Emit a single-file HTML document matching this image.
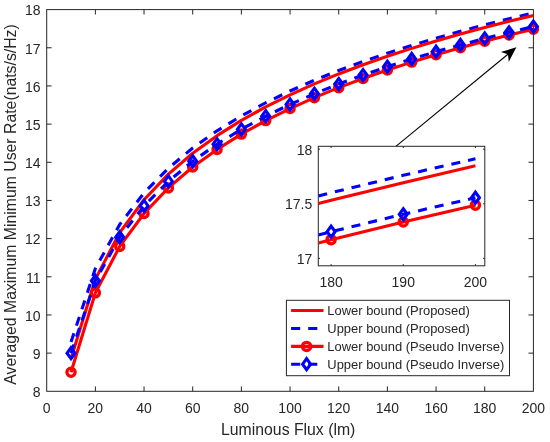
<!DOCTYPE html><html><head><meta charset="utf-8"><title>plot</title><style>html,body{margin:0;padding:0;background:#fff}svg{display:block}text{font-family:"Liberation Sans",sans-serif;fill:#262626}</style></head><body>
<svg width="550" height="442" viewBox="0 0 550 442">
<rect width="550" height="442" fill="#fff"/>
<g stroke="#262626" stroke-width="1" fill="none">
<rect x="46.70" y="9.60" width="486.70" height="381.70"/>
<path d="M95.37 391.30v-4.90M95.37 9.60v4.90M144.04 391.30v-4.90M144.04 9.60v4.90M192.71 391.30v-4.90M192.71 9.60v4.90M241.38 391.30v-4.90M241.38 9.60v4.90M290.05 391.30v-4.90M290.05 9.60v4.90M338.72 391.30v-4.90M338.72 9.60v4.90M387.39 391.30v-4.90M387.39 9.60v4.90M436.06 391.30v-4.90M436.06 9.60v4.90M484.73 391.30v-4.90M484.73 9.60v4.90M46.70 353.13h4.90M533.40 353.13h-4.90M46.70 314.96h4.90M533.40 314.96h-4.90M46.70 276.79h4.90M533.40 276.79h-4.90M46.70 238.62h4.90M533.40 238.62h-4.90M46.70 200.45h4.90M533.40 200.45h-4.90M46.70 162.28h4.90M533.40 162.28h-4.90M46.70 124.11h4.90M533.40 124.11h-4.90M46.70 85.94h4.90M533.40 85.94h-4.90M46.70 47.77h4.90M533.40 47.77h-4.90"/>
</g>
<clipPath id="c1"><rect x="46.70" y="9.60" width="486.70" height="381.70"/></clipPath>
<g>
<polyline points="71.03,342.06 95.37,268.50 119.70,224.46 144.04,192.88 168.38,168.22 192.71,147.99 217.05,130.83 241.38,115.93 265.71,102.76 290.05,90.96 314.38,80.27 338.72,70.50 363.06,61.50 387.39,53.16 411.72,45.39 436.06,38.12 460.39,31.29 484.73,24.84 509.06,18.74 533.40,12.95" fill="none" stroke="#0000ff" stroke-width="3.1" stroke-linejoin="round" stroke-dasharray="9.2 8.12"/>
<polyline points="71.03,358.47 95.37,279.10 119.70,232.67 144.04,199.73 168.38,174.18 192.71,153.30 217.05,135.65 241.38,120.36 265.71,106.87 290.05,94.80 314.38,83.89 338.72,73.93 363.06,64.76 387.39,56.28 411.72,48.37 436.06,40.98 460.39,34.04 484.73,27.50 509.06,21.31 533.40,15.43" fill="none" stroke="#ff0000" stroke-width="3.1" stroke-linejoin="round"/>
<polyline points="71.03,372.22 95.37,292.84 119.70,246.41 144.04,213.47 168.38,187.92 192.71,167.04 217.05,149.39 241.38,134.10 265.71,120.61 290.05,108.55 314.38,97.63 338.72,87.67 363.06,78.50 387.39,70.02 411.72,62.12 436.06,54.73 460.39,47.78 484.73,41.24 509.06,35.05 533.40,29.17" fill="none" stroke="#ff0000" stroke-width="3.1" stroke-linejoin="round"/>
<circle cx="71.03" cy="372.22" r="4.1" fill="none" stroke="#ff0000" stroke-width="3.3"/>
<circle cx="95.37" cy="292.84" r="4.1" fill="none" stroke="#ff0000" stroke-width="3.3"/>
<circle cx="119.70" cy="246.41" r="4.1" fill="none" stroke="#ff0000" stroke-width="3.3"/>
<circle cx="144.04" cy="213.47" r="4.1" fill="none" stroke="#ff0000" stroke-width="3.3"/>
<circle cx="168.38" cy="187.92" r="4.1" fill="none" stroke="#ff0000" stroke-width="3.3"/>
<circle cx="192.71" cy="167.04" r="4.1" fill="none" stroke="#ff0000" stroke-width="3.3"/>
<circle cx="217.05" cy="149.39" r="4.1" fill="none" stroke="#ff0000" stroke-width="3.3"/>
<circle cx="241.38" cy="134.10" r="4.1" fill="none" stroke="#ff0000" stroke-width="3.3"/>
<circle cx="265.71" cy="120.61" r="4.1" fill="none" stroke="#ff0000" stroke-width="3.3"/>
<circle cx="290.05" cy="108.55" r="4.1" fill="none" stroke="#ff0000" stroke-width="3.3"/>
<circle cx="314.38" cy="97.63" r="4.1" fill="none" stroke="#ff0000" stroke-width="3.3"/>
<circle cx="338.72" cy="87.67" r="4.1" fill="none" stroke="#ff0000" stroke-width="3.3"/>
<circle cx="363.06" cy="78.50" r="4.1" fill="none" stroke="#ff0000" stroke-width="3.3"/>
<circle cx="387.39" cy="70.02" r="4.1" fill="none" stroke="#ff0000" stroke-width="3.3"/>
<circle cx="411.72" cy="62.12" r="4.1" fill="none" stroke="#ff0000" stroke-width="3.3"/>
<circle cx="436.06" cy="54.73" r="4.1" fill="none" stroke="#ff0000" stroke-width="3.3"/>
<circle cx="460.39" cy="47.78" r="4.1" fill="none" stroke="#ff0000" stroke-width="3.3"/>
<circle cx="484.73" cy="41.24" r="4.1" fill="none" stroke="#ff0000" stroke-width="3.3"/>
<circle cx="509.06" cy="35.05" r="4.1" fill="none" stroke="#ff0000" stroke-width="3.3"/>
<circle cx="533.40" cy="29.17" r="4.1" fill="none" stroke="#ff0000" stroke-width="3.3"/>
<polyline points="71.03,353.13 95.37,280.81 119.70,237.23 144.04,205.89 168.38,181.38 192.71,161.25 217.05,144.17 241.38,129.32 265.71,116.19 290.05,104.43 314.38,93.77 338.72,84.02 363.06,75.04 387.39,66.73 411.72,58.97 436.06,51.71 460.39,44.89 484.73,38.45 509.06,32.36 533.40,26.58" fill="none" stroke="#0000ff" stroke-width="3.1" stroke-linejoin="round" stroke-dasharray="9.18 8.09"/>
<path d="M71.03 347.63L75.03 353.13L71.03 358.63L67.03 353.13Z" fill="none" stroke="#0000ff" stroke-width="3.1" stroke-linejoin="miter"/>
<path d="M95.37 275.31L99.37 280.81L95.37 286.31L91.37 280.81Z" fill="none" stroke="#0000ff" stroke-width="3.1" stroke-linejoin="miter"/>
<path d="M119.70 231.73L123.70 237.23L119.70 242.73L115.70 237.23Z" fill="none" stroke="#0000ff" stroke-width="3.1" stroke-linejoin="miter"/>
<path d="M144.04 200.39L148.04 205.89L144.04 211.39L140.04 205.89Z" fill="none" stroke="#0000ff" stroke-width="3.1" stroke-linejoin="miter"/>
<path d="M168.38 175.88L172.38 181.38L168.38 186.88L164.38 181.38Z" fill="none" stroke="#0000ff" stroke-width="3.1" stroke-linejoin="miter"/>
<path d="M192.71 155.75L196.71 161.25L192.71 166.75L188.71 161.25Z" fill="none" stroke="#0000ff" stroke-width="3.1" stroke-linejoin="miter"/>
<path d="M217.05 138.67L221.05 144.17L217.05 149.67L213.05 144.17Z" fill="none" stroke="#0000ff" stroke-width="3.1" stroke-linejoin="miter"/>
<path d="M241.38 123.82L245.38 129.32L241.38 134.82L237.38 129.32Z" fill="none" stroke="#0000ff" stroke-width="3.1" stroke-linejoin="miter"/>
<path d="M265.71 110.69L269.71 116.19L265.71 121.69L261.71 116.19Z" fill="none" stroke="#0000ff" stroke-width="3.1" stroke-linejoin="miter"/>
<path d="M290.05 98.93L294.05 104.43L290.05 109.93L286.05 104.43Z" fill="none" stroke="#0000ff" stroke-width="3.1" stroke-linejoin="miter"/>
<path d="M314.38 88.27L318.38 93.77L314.38 99.27L310.38 93.77Z" fill="none" stroke="#0000ff" stroke-width="3.1" stroke-linejoin="miter"/>
<path d="M338.72 78.52L342.72 84.02L338.72 89.52L334.72 84.02Z" fill="none" stroke="#0000ff" stroke-width="3.1" stroke-linejoin="miter"/>
<path d="M363.06 69.54L367.06 75.04L363.06 80.54L359.06 75.04Z" fill="none" stroke="#0000ff" stroke-width="3.1" stroke-linejoin="miter"/>
<path d="M387.39 61.23L391.39 66.73L387.39 72.23L383.39 66.73Z" fill="none" stroke="#0000ff" stroke-width="3.1" stroke-linejoin="miter"/>
<path d="M411.72 53.47L415.72 58.97L411.72 64.47L407.72 58.97Z" fill="none" stroke="#0000ff" stroke-width="3.1" stroke-linejoin="miter"/>
<path d="M436.06 46.21L440.06 51.71L436.06 57.21L432.06 51.71Z" fill="none" stroke="#0000ff" stroke-width="3.1" stroke-linejoin="miter"/>
<path d="M460.39 39.39L464.39 44.89L460.39 50.39L456.39 44.89Z" fill="none" stroke="#0000ff" stroke-width="3.1" stroke-linejoin="miter"/>
<path d="M484.73 32.95L488.73 38.45L484.73 43.95L480.73 38.45Z" fill="none" stroke="#0000ff" stroke-width="3.1" stroke-linejoin="miter"/>
<path d="M509.06 26.86L513.07 32.36L509.06 37.86L505.06 32.36Z" fill="none" stroke="#0000ff" stroke-width="3.1" stroke-linejoin="miter"/>
<path d="M533.40 21.08L537.40 26.58L533.40 32.08L529.40 26.58Z" fill="none" stroke="#0000ff" stroke-width="3.1" stroke-linejoin="miter"/>
</g>
<g font-size="14">
<text x="46.70" y="412.6" text-anchor="middle">0</text>
<text x="95.37" y="412.6" text-anchor="middle">20</text>
<text x="144.04" y="412.6" text-anchor="middle">40</text>
<text x="192.71" y="412.6" text-anchor="middle">60</text>
<text x="241.38" y="412.6" text-anchor="middle">80</text>
<text x="290.05" y="412.6" text-anchor="middle">100</text>
<text x="338.72" y="412.6" text-anchor="middle">120</text>
<text x="387.39" y="412.6" text-anchor="middle">140</text>
<text x="436.06" y="412.6" text-anchor="middle">160</text>
<text x="484.73" y="412.6" text-anchor="middle">180</text>
<text x="533.40" y="412.6" text-anchor="middle">200</text>
<text x="40.5" y="397.10" text-anchor="end">8</text>
<text x="40.5" y="358.93" text-anchor="end">9</text>
<text x="40.5" y="320.76" text-anchor="end">10</text>
<text x="40.5" y="282.59" text-anchor="end">11</text>
<text x="40.5" y="244.42" text-anchor="end">12</text>
<text x="40.5" y="206.25" text-anchor="end">13</text>
<text x="40.5" y="168.08" text-anchor="end">14</text>
<text x="40.5" y="129.91" text-anchor="end">15</text>
<text x="40.5" y="91.74" text-anchor="end">16</text>
<text x="40.5" y="53.57" text-anchor="end">17</text>
<text x="40.5" y="15.40" text-anchor="end">18</text>
</g>
<text x="288.2" y="434.6" font-size="15.8" text-anchor="middle">Luminous Flux (lm)</text>
<text transform="translate(16.4 204.5) rotate(-90)" font-size="15.8" text-anchor="middle">Averaged Maximum Minimum User Rate(nats/s/Hz)</text>
<rect x="318.30" y="146.30" width="166.50" height="119.50" fill="#fff"/>
<clipPath id="c2"><rect x="318.30" y="146.30" width="166.50" height="119.50"/></clipPath>
<g stroke="#262626" stroke-width="1" fill="none">
<rect x="318.30" y="146.30" width="166.50" height="119.50"/>
<path d="M331.10 265.80v-1.70M331.10 146.30v1.70M403.26 265.80v-1.70M403.26 146.30v1.70M475.42 265.80v-1.70M475.42 146.30v1.70M318.30 258.37h1.70M484.80 258.37h-1.70M318.30 203.76h1.70M484.80 203.76h-1.70M318.30 149.14h1.70M484.80 149.14h-1.70"/>
</g>
<g clip-path="url(#c2)">
<polyline points="318.30,195.95 331.10,192.75 403.26,175.29 475.42,158.72" fill="none" stroke="#0000ff" stroke-width="3.1" stroke-linejoin="round" stroke-dasharray="9.1 8"/>
<polyline points="318.30,203.60 331.10,200.36 403.26,182.64 475.42,165.83" fill="none" stroke="#ff0000" stroke-width="3.1" stroke-linejoin="round"/>
<polyline points="318.30,242.93 331.10,239.68 403.26,221.96 475.42,205.15" fill="none" stroke="#ff0000" stroke-width="3.1" stroke-linejoin="round"/>
</g>
<circle cx="331.10" cy="239.68" r="4.1" fill="none" stroke="#ff0000" stroke-width="3.3"/>
<circle cx="403.26" cy="221.96" r="4.1" fill="none" stroke="#ff0000" stroke-width="3.3"/>
<circle cx="475.42" cy="205.15" r="4.1" fill="none" stroke="#ff0000" stroke-width="3.3"/>
<g clip-path="url(#c2)">
<polyline points="318.30,234.91 331.10,231.71 403.26,214.28 475.42,197.73" fill="none" stroke="#0000ff" stroke-width="3.1" stroke-linejoin="round" stroke-dasharray="9.1 8"/>
</g>
<path d="M331.10 226.21L335.10 231.71L331.10 237.21L327.10 231.71Z" fill="none" stroke="#0000ff" stroke-width="3.1" stroke-linejoin="miter"/>
<path d="M403.26 208.78L407.26 214.28L403.26 219.78L399.26 214.28Z" fill="none" stroke="#0000ff" stroke-width="3.1" stroke-linejoin="miter"/>
<path d="M475.42 192.23L479.42 197.73L475.42 203.23L471.42 197.73Z" fill="none" stroke="#0000ff" stroke-width="3.1" stroke-linejoin="miter"/>
<g font-size="14">
<text x="331.10" y="286.7" text-anchor="middle">180</text>
<text x="403.26" y="286.7" text-anchor="middle">190</text>
<text x="475.42" y="286.7" text-anchor="middle">200</text>
<text x="312.3" y="263.97" text-anchor="end">17</text>
<text x="312.3" y="209.36" text-anchor="end">17.5</text>
<text x="312.3" y="154.74" text-anchor="end">18</text>
</g>
<path d="M396.20 146.20L507.94 54.26" stroke="#000" stroke-width="1.1" fill="none"/>
<path d="M516.40 47.30L508.79 61.66L507.94 54.26L500.85 52.00Z" fill="#000"/>
<rect x="286.40" y="300.30" width="223.10" height="75.40" fill="#fff" stroke="#262626" stroke-width="1"/>
<path d="M291.1 310.5H323.5" stroke="#ff0000" stroke-width="3.1"/>
<path d="M291.1 328.5H323.5" stroke="#0000ff" stroke-width="3.1" stroke-dasharray="9.1 8"/>
<path d="M291.1 346.4H323.5" stroke="#ff0000" stroke-width="3.1"/>
<circle cx="306.60" cy="346.40" r="4.1" fill="none" stroke="#ff0000" stroke-width="3.3"/>
<path d="M291.1 364.2H323.5" stroke="#0000ff" stroke-width="3.1" stroke-dasharray="9.1 8"/>
<path d="M306.60 358.70L310.60 364.20L306.60 369.70L302.60 364.20Z" fill="none" stroke="#0000ff" stroke-width="3.1" stroke-linejoin="miter"/>
<g font-size="12.94">
<text x="327.3" y="315.20" fill="#000">Lower bound (Proposed)</text>
<text x="327.3" y="333.20" fill="#000">Upper bound (Proposed)</text>
<text x="327.3" y="351.10" fill="#000">Lower bound (Pseudo Inverse)</text>
<text x="327.3" y="368.90" fill="#000">Upper bound (Pseudo Inverse)</text>
</g>
</svg></body></html>
